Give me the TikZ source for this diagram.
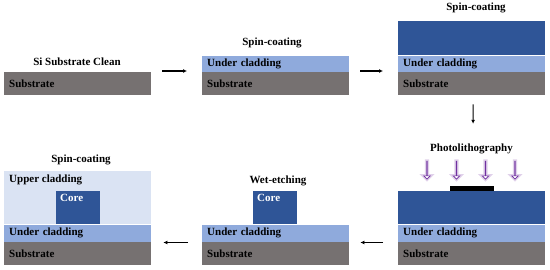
\documentclass[tikz,border=0pt]{standalone}
\usepackage{fontspec}
\setmainfont{Liberation Serif}
\usetikzlibrary{positioning,arrows.meta,shapes.arrows}

\definecolor{subgray}{RGB}{118,113,113}
\definecolor{underblue}{RGB}{143,170,220}
\definecolor{coreblue}{RGB}{47,85,151}
\definecolor{upperblue}{RGB}{218,227,243}
\definecolor{uvpurple}{RGB}{112,48,160}

\begin{document}
\begin{tikzpicture}[
    x=1pt, y=-1pt,
    layer/.style={anchor=north west, minimum width=147pt, inner xsep=5pt, inner ysep=0pt,
        text width=137pt, align=left, font=\bfseries\fontsize{11}{12}\selectfont},
    substrate/.style={layer, fill=subgray, minimum height=23pt},
    under/.style={layer, fill=underblue},
    coat/.style={fill=coreblue, minimum width=147pt, inner sep=0pt},
    upper/.style={fill=upperblue, minimum width=147pt, inner sep=0pt},
    coreblock/.style={fill=coreblue, minimum width=44pt, minimum height=33pt, inner sep=0pt},
    mask/.style={fill=black, minimum width=44pt, minimum height=5pt, inner sep=0pt},
    lbl/.style={font=\bfseries\fontsize{11}{12}\selectfont, inner xsep=5pt, inner ysep=3pt},
    title/.style={font=\bfseries\fontsize{11}{12}\selectfont, inner sep=1pt},
    uv/.style={single arrow, shape border rotate=270, minimum height=18pt, minimum width=6.5pt,
        single arrow head extend=3pt, inner sep=0pt, fill=white, draw=uvpurple, line width=0.6pt,
        preaction={draw=uvpurple!22, line width=3.5pt}},
    arr/.style={-{Latex[length=4pt,width=4pt]}, line width=1.1pt}
]
\useasboundingbox (0,0) rectangle (550,270);

% Step 1: clean substrate
\node[substrate] (s1) at (4,72) {Substrate};
\node[title] (t1) at (77,62) {Si Substrate Clean};

% Step 2: under cladding
\node[substrate] (s2) at (202,72) {Substrate};
\node[under, minimum height=16pt, above=0pt of s2] (u2) {Under cladding};
\node[title] (t2) at (272,43) {Spin-coating};

% Step 3: core layer
\node[substrate] (s3) at (398,72) {Substrate};
\node[under, minimum height=16pt, above=0pt of s3] (u3) {Under cladding};
\node[coat, minimum height=34pt, above=0pt of u3] (c3) {};
\node[title] (t3) at (476,8) {Spin-coating};

% Step 4: photolithography
\node[substrate] (s4) at (398,242) {Substrate};
\node[under, minimum height=17pt, above=0pt of s4] (u4) {Under cladding};
\node[coat, minimum height=33pt, above=0pt of u4] (c4) {};
\node[mask, above=0pt of c4] (m4) {};
\node[uv] (uv1) at (427,170) {};
\node[uv] (uv2) at (456.5,170) {};
\node[uv] (uv3) at (485.5,170) {};
\node[uv] (uv4) at (515,170) {};
\node[title] (t4) at (471.5,149) {Photolithography};

% Step 5: wet-etching
\node[substrate] (s5) at (202,242) {Substrate};
\node[under, minimum height=17pt, above=0pt of s5] (u5) {Under cladding};
\node[coreblock, anchor=south west] (k5) at ([xshift=51pt]u5.north west) {};
\node[lbl, text=white, anchor=north west, inner xsep=4pt] (l5) at (k5.north west) {Core};
\node[title] (t5) at (278,181) {Wet-etching};

% Step 6: upper cladding
\node[substrate] (s6) at (4,242) {Substrate};
\node[under, minimum height=17pt, above=0pt of s6] (u6) {Under cladding};
\node[upper, minimum height=53pt, above=0pt of u6] (p6) {};
\node[lbl, anchor=north west] (l6) at (p6.north west) {Upper cladding};
\node[coreblock, anchor=south west] (k6) at ([xshift=52pt]u6.north west) {};
\node[lbl, text=white, anchor=north west, inner xsep=4pt] (lk6) at (k6.north west) {Core};
\node[title] (t6) at (81,160) {Spin-coating};

% Process arrows
\draw[arr, shorten <=11pt, shorten >=15pt] ([yshift=1pt]s1.north east) -- ([yshift=1pt]u2.south west);
\draw[arr, shorten <=11pt, shorten >=15pt] ([yshift=1pt]u2.south east) -- ([yshift=1pt]u3.south west);
\draw[arr, shorten <=9pt, shorten >=19pt] ([xshift=1.5pt]s3.south) -- ([xshift=1.5pt]t4.north);
\draw[arr, shorten <=15pt, shorten >=11pt] ([yshift=-0.5pt]u4.south west) -- ([yshift=-0.5pt]u5.south east);
\draw[arr, shorten <=14pt, shorten >=12pt] ([yshift=-0.5pt]u5.south west) -- ([yshift=-0.5pt]u6.south east);

\end{tikzpicture}
\end{document}
